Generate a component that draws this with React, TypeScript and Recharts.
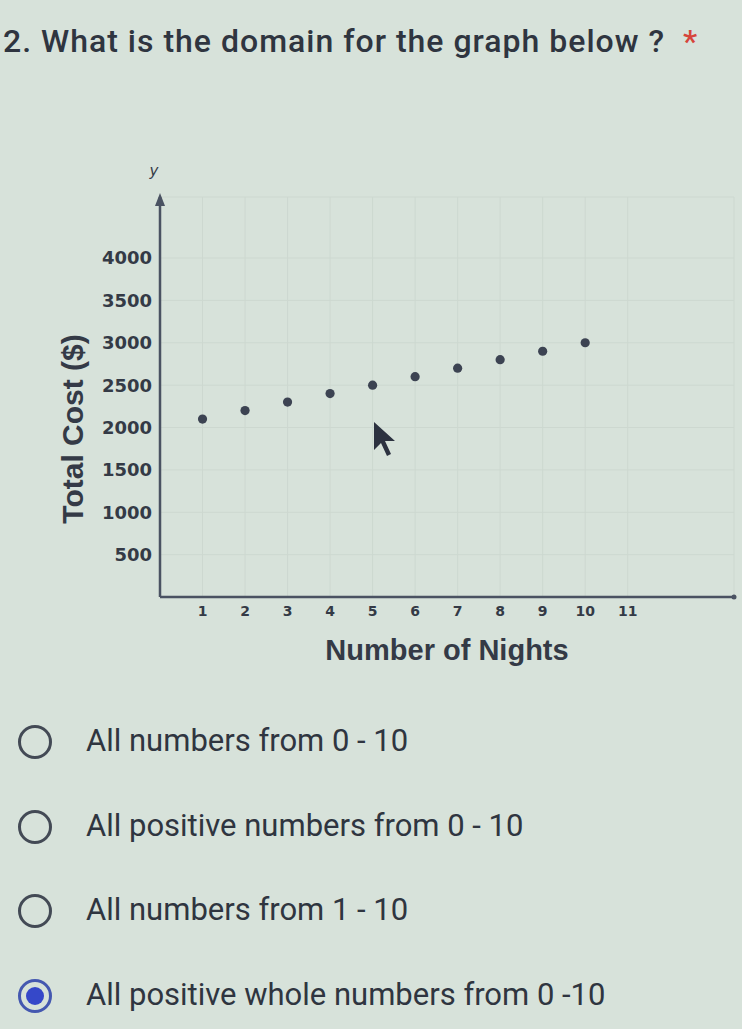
import React from "react";
import {
  ScatterChart,
  Scatter,
  XAxis,
  YAxis,
  CartesianGrid,
  ReferenceDot,
  Label,
} from "recharts";

const title = "2. What is the domain for the graph below ?";
const nights = [1, 2, 3, 4, 5, 6, 7, 8, 9, 10];
const totalCost = [2100, 2200, 2300, 2400, 2500, 2600, 2700, 2800, 2900, 3000];
const xTicks = [1, 2, 3, 4, 5, 6, 7, 8, 9, 10, 11];
const yTicks = [500, 1000, 1500, 2000, 2500, 3000, 3500, 4000];
const xLabel = "Number of Nights";
const yLabel = "Total Cost ($)";
const options = [
  "All numbers from 0 - 10",
  "All positive numbers from 0 - 10",
  "All numbers from 1 - 10",
  "All positive whole numbers from 0 -10",
];
const selectedIndex = 3;

const points = nights.map((n, i) => ({ x: n, y: totalCost[i] }));

const BG = "#d7e2da";
const INK = "#343a46";
const AXIS = "#4a5262";

const Dot = (props: any) => {
  const { cx, cy } = props;
  return <circle cx={cx} cy={cy} r={4.6} fill="#3c4352" />;
};

const ArrowUp = (props: any) => {
  const { cx, cy } = props;
  return (
    <g>
      <polygon
        points={`${cx},${cy - 4} ${cx - 5},${cy + 9} ${cx + 5},${cy + 9}`}
        fill={AXIS}
      />
      <text
        x={cx - 6}
        y={cy - 21}
        textAnchor="middle"
        fontFamily="DejaVu Sans"
        fontStyle="italic"
        fontSize={15}
        fill={INK}
      >
        y
      </text>
    </g>
  );
};

const EndDot = (props: any) => {
  const { cx, cy } = props;
  return <circle cx={cx} cy={cy} r={2.5} fill={AXIS} />;
};

export default function App() {
  return (
    <div
      style={{
        position: "absolute",
        left: 0,
        top: 0,
        width: 742,
        height: 1029,
        background: BG,
        overflow: "hidden",
        fontFamily: "Roboto, 'Liberation Sans', sans-serif",
      }}
    >
      <div
        style={{
          position: "absolute",
          left: 3,
          top: 22,
          fontSize: 32,
          lineHeight: "38px",
          fontWeight: 500,
          color: "#2f3540",
          whiteSpace: "pre",
          letterSpacing: 1,
        }}
      >
        {title}
        <span style={{ color: "#d6453a" }}>{"  *"}</span>
      </div>

      <div style={{ position: "absolute", left: 0, top: 0 }}>
        <ScatterChart
          width={742}
          height={700}
          margin={{ top: 197, right: 8, bottom: 40, left: 0 }}
        >
          <CartesianGrid stroke="#cdd8d0" strokeWidth={1} />
          <XAxis
            type="number"
            dataKey="x"
            domain={[0, 13.5]}
            ticks={xTicks}
            allowDataOverflow
            height={63}
            axisLine={{ stroke: AXIS, strokeWidth: 2.5 }}
            tickLine={false}
            tickSize={4}
            tickMargin={5}
            tick={{
              fill: INK,
              fontSize: 14,
              fontWeight: 700,
              fontFamily: "DejaVu Sans",
            }}
          >
            <Label
              value={xLabel}
              position="insideBottom"
              offset={0}
              style={{
                fill: INK,
                fontSize: 29,
                fontWeight: 700,
                fontFamily: "Liberation Sans",
              }}
            />
          </XAxis>
          <YAxis
            type="number"
            dataKey="y"
            domain={[0, 4720]}
            ticks={yTicks}
            allowDataOverflow
            width={160}
            axisLine={{ stroke: AXIS, strokeWidth: 2.5 }}
            tickLine={false}
            tickSize={4}
            tickMargin={4}
            tick={{
              fill: INK,
              fontSize: 18,
              fontWeight: 700,
              fontFamily: "DejaVu Sans",
            }}
          >
            <Label
              content={(p: any) => {
                const vb = p.viewBox || { x: 0, y: 197, width: 160, height: 400 };
                const cx = vb.x + 72;
                const cy = vb.y + vb.height * 0.58;
                return (
                  <text
                    x={cx}
                    y={cy}
                    transform={`rotate(-90, ${cx}, ${cy})`}
                    textAnchor="middle"
                    dominantBaseline="central"
                    fill={INK}
                    fontSize={30}
                    fontWeight={700}
                    fontFamily="Liberation Sans"
                  >
                    {yLabel}
                  </text>
                );
              }}
            />
          </YAxis>
          <Scatter data={points} shape={Dot} isAnimationActive={false} />
          <ReferenceDot x={0} y={4720} ifOverflow="visible" shape={ArrowUp} />
          <ReferenceDot x={13.5} y={0} ifOverflow="visible" shape={EndDot} />
        </ScatterChart>
      </div>

      <svg
        style={{ position: "absolute", left: 372, top: 420 }}
        width={30}
        height={40}
      >
        <polygon
          points="2,2 2,30 9,23 15,36 19,34 13,21 23,21"
          fill="#2c3240"
        />
      </svg>

      {options.map((opt, i) => {
        const top = 742 + i * 84.5;
        const selected = i === selectedIndex;
        return (
          <div key={opt}>
            <div
              style={{
                position: "absolute",
                left: 35 - 17,
                top: top - 17,
                width: 34,
                height: 34,
                boxSizing: "border-box",
                borderRadius: "50%",
                border: `3px solid ${selected ? "#4458b0" : "#434a55"}`,
              }}
            />
            {selected && (
              <div
                style={{
                  position: "absolute",
                  left: 35 - 9,
                  top: top - 9,
                  width: 18,
                  height: 18,
                  borderRadius: "50%",
                  background: "#3548c9",
                }}
              />
            )}
            <div
              style={{
                position: "absolute",
                left: 86,
                top: top - 19,
                fontSize: 31,
                lineHeight: "36px",
                color: "#2f3540",
                whiteSpace: "nowrap",
              }}
            >
              {opt}
            </div>
          </div>
        );
      })}
    </div>
  );
}
